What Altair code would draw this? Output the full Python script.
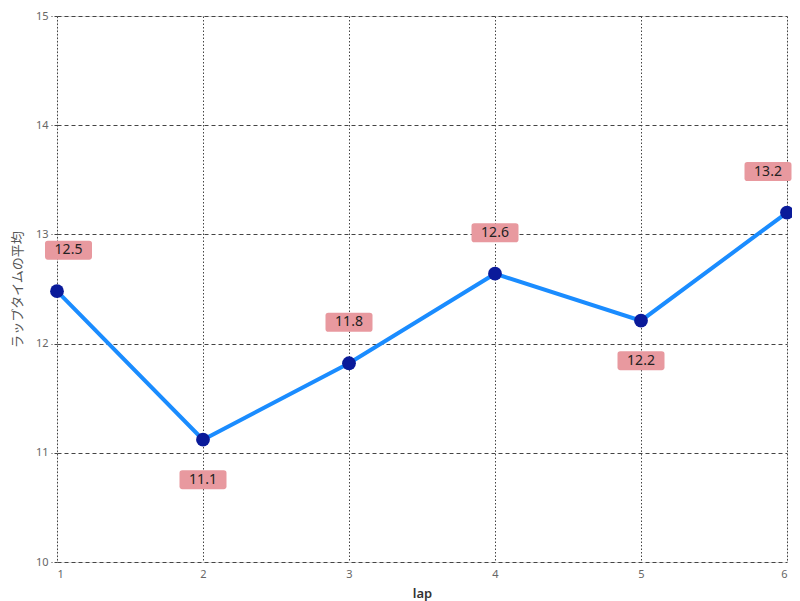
import altair as alt
import pandas as pd

laps = [1, 2, 3, 4, 5, 6]
avg_times = [12.48, 11.12, 11.82, 12.64, 12.21, 13.2]
label_side = ["above", "below", "above", "above", "below", "above"]

df = pd.DataFrame({"lap": laps, "time": avg_times, "side": label_side})
df["label"] = [f"{v:.1f}" for v in avg_times]

FONT = "Noto Sans, Noto Sans CJK JP"
W, H = 730, 546
BOX_W, BOX_H = 47, 19

x = alt.X("lap:Q", title="lap",
          scale=alt.Scale(domain=[1, 6], nice=False, zero=False),
          axis=alt.Axis(values=laps, format="d", grid=True, gridDash=[1.5, 2], gridColor="#444",
                        gridOpacity=1, domain=False, ticks=False, labelColor="#666",
                        labelFontSize=11, labelPadding=6, titleFontSize=13,
                        titleFontWeight=600, titleColor="#333", titlePadding=8))
y = alt.Y("time:Q", title="ラップタイムの平均",
          scale=alt.Scale(domain=[10, 15], nice=False, zero=False),
          axis=alt.Axis(values=[10, 11, 12, 13, 14, 15], grid=True, gridDash=[4, 3],
                        gridColor="#444", gridOpacity=1, domain=False, tickSize=6,
                        tickColor="#444", tickDash=[3, 2], labelColor="#666", labelFontSize=11,
                        labelPadding=3, titleFontSize=13, titleFontWeight="normal",
                        titleColor="#555", titlePadding=11))

base = alt.Chart(df).encode(x=x, y=y)

line = base.mark_line(color="#1a8cff", strokeWidth=4)
pts = base.mark_point(filled=True, color="#0a1a9a", size=190, opacity=1)

box_path = ("M-0.88,-0.404 H0.88 Q1,-0.404 1,-0.284 V0.284 Q1,0.404 0.88,0.404 "
            "H-0.88 Q-1,0.404 -1,0.284 V-0.284 Q-1,-0.404 -0.88,-0.404 Z")

layers = [line, pts]
for lap, side in zip(laps, label_side):
    px = (lap - laps[0]) / (laps[-1] - laps[0]) * W
    center = min(max(px, 11.5), W - 19)
    dx = center - px
    dy = -41 if side == "above" else 40
    sub = base.transform_filter(alt.datum.lap == lap)
    layers.append(sub.mark_point(shape=box_path, size=BOX_W * BOX_W, filled=True,
                                 color="#e8999f", opacity=1, xOffset=dx, yOffset=dy))
    layers.append(sub.mark_text(fontSize=14, color="#222", font=FONT, dx=dx, dy=dy,
                                baseline="middle").encode(text="label:N"))

chart = alt.layer(*layers).properties(
    width=W, height=H,
    autosize=alt.AutoSizeParams(type="none"),
    padding={"left": 49, "top": 8, "right": 5, "bottom": 39},
).configure_view(stroke=None).configure(font=FONT)

chart.save("out.html", embed_options={"renderer": "svg", "actions": False})
